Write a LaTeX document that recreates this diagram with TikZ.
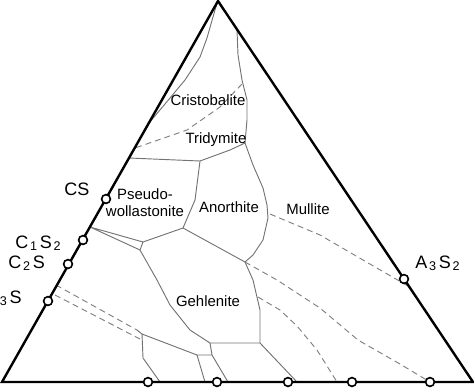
\documentclass[tikz,border=0pt]{standalone}
\usepackage{fontspec}
\setmainfont{Liberation Sans}
\usetikzlibrary{positioning,calc}

\newcommand\cmpsub[1]{\kern0.1em\textsubscript{#1}\kern0.12em}

\begin{document}
\begin{tikzpicture}[x=0.75pt,y=-0.75pt,
  edge/.style={line width=1.8pt,line join=miter},
  bound/.style={black!55,line width=0.7pt,line join=round},
  iso/.style={black!50,line width=0.7pt,dash pattern=on 4.5pt off 3pt},
  comp/.style={circle,draw,line width=1.2pt,fill=white,inner sep=0pt,minimum size=6.6pt},
  field/.style={font=\fontsize{11.2}{12.8}\selectfont,inner sep=0pt,align=center},
  phase/.style={font=\fontsize{13.5}{16}\selectfont,inner sep=0pt}]
\useasboundingbox (0,0) rectangle (474,387);
\coordinate (L) at (2,382);
\coordinate (T) at (218,1);
\coordinate (R) at (473,382);

\coordinate (qA) at (245,143);
\coordinate (qB) at (200,161);
\coordinate (qC) at (183,228);
\coordinate (qD) at (143,242);
\coordinate (qE) at (140,250);
\coordinate (qF) at (90,227);
\coordinate (qG) at (245,262);
\coordinate (qH) at (210,343);
\coordinate (qI) at (260,343);
\coordinate (qJ) at (212,355);
\coordinate (qK) at (197,355);
\coordinate (qM) at (142,334);

\draw[bound] (T) -- (215,10) -- (207,38) -- (200,57) -- (185,80) -- (165,104) -- (149,123);
\draw[bound] (237,30) -- (238,55) -- (242,80) -- (247,100) -- (247,120) -- (qA)
  -- (253,165) -- (263,188) -- (267,205) -- (268,218) -- (263,240) -- (253,255) -- (qG);
\draw[bound] (129,158) -- (qB) -- (230,150) -- (qA);
\draw[bound] (qB) -- (195,200) -- (qC) -- (qG);
\draw[bound] (qC) -- (qD) -- (qF) -- (qE) -- (qD);
\draw[bound] (qE) -- (157,280) -- (170,305) -- (190,330) -- (qH) -- (qI)
  -- (260,310) -- (253,280) -- (qG);
\draw[bound] (qI) -- (297,382);
\draw[bound] (qH) -- (qJ) -- (228,382);
\draw[bound] (qJ) -- (qK) -- (205,382);
\draw[bound] (qK) -- (qM) -- (143,358) -- (160,382);
\draw[bound] (qM) -- (137,330);

\draw[iso] (242,84) -- (220,107) -- (187,130) -- (135,148);
\draw[iso] (56,285) -- (137,330);
\draw[iso] (55,295) -- (140,339);
\draw[iso] (270,214) -- (320,235) -- (363,260) -- (408,286);
\draw[iso] (qG) -- (277,280) -- (320,308) -- (358,340) -- (400,364) -- (430,382);
\draw[iso] (258,297) -- (280,310) -- (297,326) -- (317,350) -- (337,382);

\draw[edge] (L) -- (T) -- (R) -- cycle;

\node[comp] (cs) at (106,199) {};
\node[comp] (c1s2) at (83,240) {};
\node[comp] (c2s) at (68,264) {};
\node[comp] (c3s) at (48,301) {};
\node[comp] (a3s2) at (404,279) {};
\node[comp] (b1) at (148,382) {};
\node[comp] (b2) at (217,382) {};
\node[comp] (b3) at (288,382) {};
\node[comp] (b4) at (352,382) {};
\node[comp] (b5) at (430,382) {};

\node[phase,anchor=base west] (cslbl) at (64,195) {CS};
\node[phase,anchor=base west] (c1s2lbl) at (15,248) {C\cmpsub{1}S\cmpsub{2}};
\node[phase,anchor=base west] (c2slbl) at (8,268) {C\cmpsub{2}S};
\node[phase,anchor=base east] (c3slbl) at (22,303) {C\cmpsub{3}S};
\node[phase,anchor=base west] (a3s2lbl) at (415,268) {A\cmpsub{3}S\cmpsub{2}};

\node[field] (crist) at (208,100) {Cristobalite};
\node[field] (trid) at (216,140) {Tridymite};
\node[field] (pwoll) at (145,203) {Pseudo-\\wollastonite};
\node[field] (anor) at (229,207) {Anorthite};
\node[field] (mull) at (308,209) {Mullite};
\node[field] (gehl) at (208,301) {Gehlenite};
\end{tikzpicture}
\end{document}
